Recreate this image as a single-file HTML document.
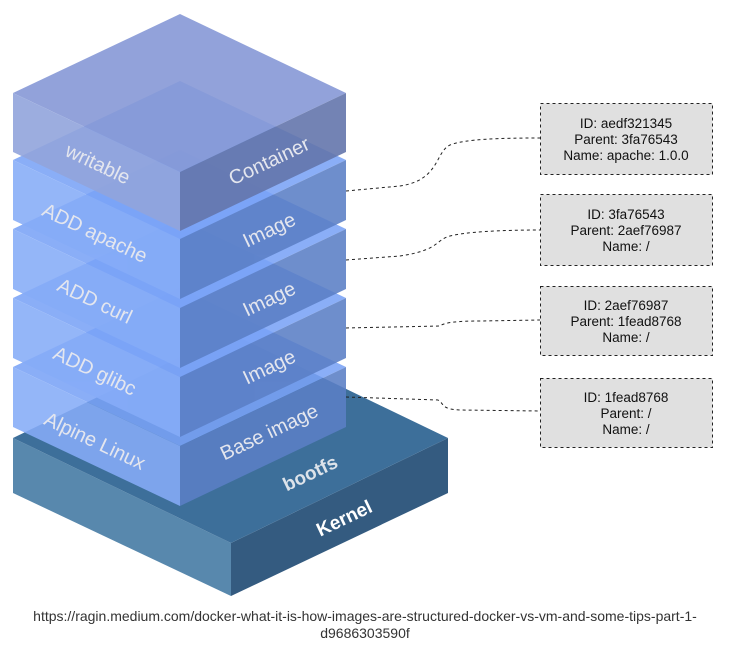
<!DOCTYPE html>
<html><head><meta charset="utf-8"><style>
html,body{margin:0;padding:0;background:#fff;}
svg{display:block;font-family:"Liberation Sans",sans-serif;}
</style></head><body>
<svg width="731" height="657" viewBox="0 0 731 657">
<!-- Kernel -->
<polygon points="13,438 231,543 231,596 13,493" fill="#5888ad"/>
<polygon points="231,543 448,438 448,493 231,596" fill="#345b80"/>
<polygon points="230,333 448,438 231,543 13,438" fill="#3d6f9a"/>
<text x="313" y="479" transform="rotate(-25.5 313 479)" text-anchor="middle" font-size="19" font-weight="bold" fill="#dde3ea">bootfs</text>
<text x="347" y="524" transform="rotate(-25.5 347 524)" text-anchor="middle" font-size="19" font-weight="bold" fill="#ffffff">Kernel</text>

<g id="layers">
<g opacity="0.88">
<polygon points="180,288 346,367 180,446 13,367" fill="#7aa3f7"/>
<polygon points="13,367 180,446 180,506 13,427" fill="#86acf8"/>
<polygon points="180,446 346,367 346,427 180,506" fill="#5b7fc6"/>
</g>
<g opacity="0.88">
<polygon points="180,219 346,298 180,377 13,298" fill="#7aa3f7"/>
<polygon points="13,298 180,377 180,437 13,358" fill="#86acf8"/>
<polygon points="180,377 346,298 346,358 180,437" fill="#5b7fc6"/>
</g>
<g opacity="0.88">
<polygon points="180,150 346,229 180,308 13,229" fill="#7aa3f7"/>
<polygon points="13,229 180,308 180,368 13,289" fill="#86acf8"/>
<polygon points="180,308 346,229 346,289 180,368" fill="#5b7fc6"/>
</g>
<g opacity="0.88">
<polygon points="180,81 346,160 180,239 13,160" fill="#7aa3f7"/>
<polygon points="13,160 180,239 180,299 13,220" fill="#86acf8"/>
<polygon points="180,239 346,160 346,220 180,299" fill="#5b7fc6"/>
</g>
<g opacity="0.9">
<polygon points="180,14 346,93 180,172 13,93" fill="#8799d6"/>
<polygon points="13,93 180,172 180,231 13,152" fill="#92a5dc"/>
<polygon points="180,172 346,93 346,152 180,231" fill="#6476ac"/>
</g>
</g>

<g font-size="20" fill="#e4e6ee" text-anchor="middle">
<text x="95" y="170" transform="rotate(25.3 95 170)">writable</text>
<text x="272" y="167" transform="rotate(-25.3 272 167)">Container</text>
<text x="92" y="239" transform="rotate(25.3 92 239)">ADD apache</text>
<text x="272" y="236" transform="rotate(-25.3 272 236)">Image</text>
<text x="92" y="307" transform="rotate(25.3 92 307)">ADD curl</text>
<text x="272" y="305" transform="rotate(-25.3 272 305)">Image</text>
<text x="92" y="377" transform="rotate(25.3 92 377)">ADD glibc</text>
<text x="272" y="373" transform="rotate(-25.3 272 373)">Image</text>
<text x="92" y="447" transform="rotate(25.3 92 447)">Alpine Linux</text>
<text x="272" y="438" transform="rotate(-25.3 272 438)">Base image</text>
</g>

<g fill="none" stroke="#222" stroke-width="1" stroke-dasharray="3,3">
<path d="M346,191 L400,186 C440,180 435,152 450,145 C465,139 500,138 540,138"/>
<path d="M346,260 L400,256 C440,250 435,240 450,236 C465,232 500,230 540,230"/>
<path d="M346,328 L440,326 C445,322 460,321 480,321 L540,320"/>
<path d="M346,397 L438,400 C445,404 440,409 460,410 L540,411"/>
</g>

<g fill="#e0e0e0" stroke="#222" stroke-width="1" stroke-dasharray="3,3">
<rect x="540.5" y="103.5" width="172" height="71"/>
<rect x="540.5" y="194.5" width="172" height="71"/>
<rect x="540.5" y="286.5" width="172" height="69"/>
<rect x="540.5" y="378.5" width="172" height="69"/>
</g>
<g font-size="13.5" fill="#111" text-anchor="middle">
<text x="626" y="128">ID: aedf321345</text>
<text x="626" y="144">Parent: 3fa76543</text>
<text x="626" y="160">Name: apache: 1.0.0</text>
<text x="626" y="219">ID: 3fa76543</text>
<text x="626" y="235">Parent: 2aef76987</text>
<text x="626" y="251">Name: /</text>
<text x="626" y="310">ID: 2aef76987</text>
<text x="626" y="326">Parent: 1fead8768</text>
<text x="626" y="342">Name: /</text>
<text x="626" y="402">ID: 1fead8768</text>
<text x="626" y="418">Parent: /</text>
<text x="626" y="434">Name: /</text>
</g>

<g font-size="14" fill="#333" text-anchor="middle">
<text x="365" y="621">https://ragin.medium.com/docker-what-it-is-how-images-are-structured-docker-vs-vm-and-some-tips-part-1-</text>
<text x="365" y="638">d9686303590f</text>
</g>
</svg>
</body></html>
